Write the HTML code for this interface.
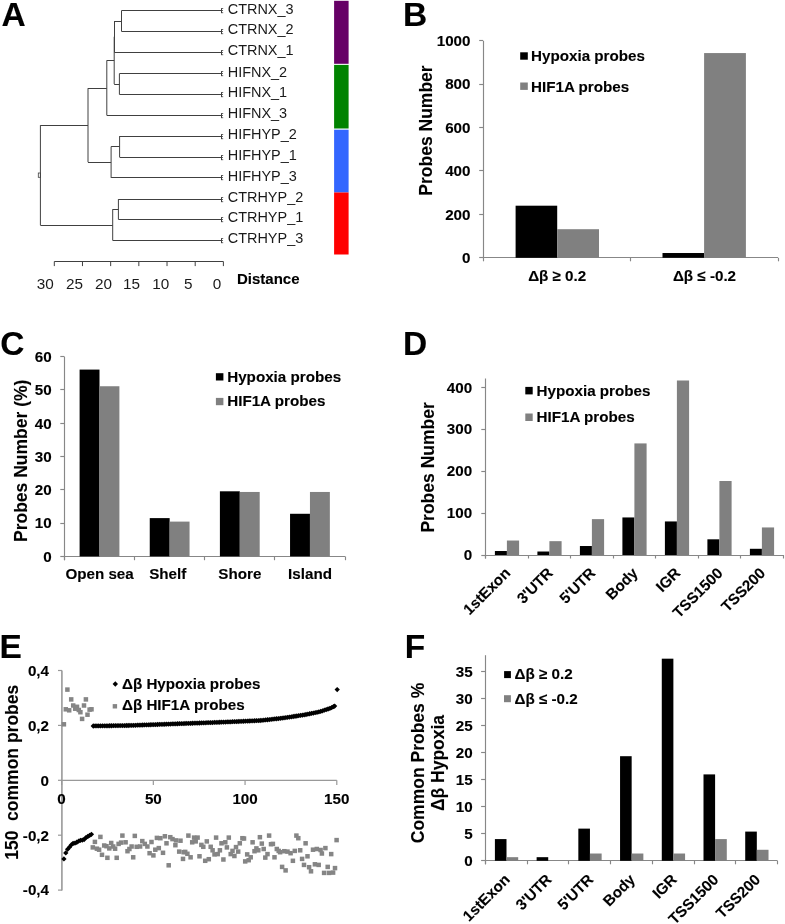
<!DOCTYPE html>
<html><head><meta charset="utf-8"><title>Figure</title>
<style>
html,body{margin:0;padding:0;background:#fff;}
body{width:785px;height:924px;overflow:hidden;}
svg{display:block;font-family:"Liberation Sans",Arial,sans-serif;}
text[font-weight="bold"]{stroke:#000;stroke-width:0.12px;}
</style></head>
<body>
<svg width="785" height="924" viewBox="0 0 785 924">
<rect x="0" y="0" width="785" height="924" fill="#fff"/>
<text x="1.6" y="25.8" font-size="33.5" font-weight="bold" text-anchor="start" fill="#000">A</text>
<text x="403" y="25.9" font-size="33.5" font-weight="bold" text-anchor="start" fill="#000">B</text>
<text x="0.2" y="354.5" font-size="33.5" font-weight="bold" text-anchor="start" fill="#000">C</text>
<text x="403" y="354.8" font-size="33.5" font-weight="bold" text-anchor="start" fill="#000">D</text>
<text x="-0.6" y="658.4" font-size="33.5" font-weight="bold" text-anchor="start" fill="#000">E</text>
<text x="404.7" y="658.3" font-size="33.5" font-weight="bold" text-anchor="start" fill="#000">F</text>
<line x1="121.5" y1="10.5" x2="221.3" y2="10.5" stroke="#404040" stroke-width="1.0"/>
<line x1="221.5" y1="8.2" x2="221.5" y2="13.1" stroke="#404040" stroke-width="1"/>
<line x1="221.5" y1="8.5" x2="223.2" y2="8.5" stroke="#404040" stroke-width="0.8"/>
<line x1="221.5" y1="12.7" x2="223.2" y2="12.7" stroke="#404040" stroke-width="0.8"/>
<line x1="221.5" y1="10.5" x2="223" y2="10.5" stroke="#404040" stroke-width="0.8"/>
<text x="0" y="0" font-size="15" fill="#1a1a1a" transform="translate(227.7,13.5) scale(0.965,1)">CTRNX_3</text>
<line x1="121.5" y1="31.5" x2="221.3" y2="31.5" stroke="#404040" stroke-width="1.0"/>
<line x1="221.5" y1="29.2" x2="221.5" y2="34.1" stroke="#404040" stroke-width="1"/>
<line x1="221.5" y1="29.5" x2="223.2" y2="29.5" stroke="#404040" stroke-width="0.8"/>
<line x1="221.5" y1="33.7" x2="223.2" y2="33.7" stroke="#404040" stroke-width="0.8"/>
<line x1="221.5" y1="31.5" x2="223" y2="31.5" stroke="#404040" stroke-width="0.8"/>
<text x="0" y="0" font-size="15" fill="#1a1a1a" transform="translate(227.7,34.3) scale(0.965,1)">CTRNX_2</text>
<line x1="114.5" y1="52.5" x2="221.3" y2="52.5" stroke="#404040" stroke-width="1.0"/>
<line x1="221.5" y1="50.2" x2="221.5" y2="55.1" stroke="#404040" stroke-width="1"/>
<line x1="221.5" y1="50.5" x2="223.2" y2="50.5" stroke="#404040" stroke-width="0.8"/>
<line x1="221.5" y1="54.7" x2="223.2" y2="54.7" stroke="#404040" stroke-width="0.8"/>
<line x1="221.5" y1="52.5" x2="223" y2="52.5" stroke="#404040" stroke-width="0.8"/>
<text x="0" y="0" font-size="15" fill="#1a1a1a" transform="translate(227.7,55.4) scale(0.965,1)">CTRNX_1</text>
<line x1="119.4" y1="73.5" x2="221.3" y2="73.5" stroke="#404040" stroke-width="1.0"/>
<line x1="221.5" y1="71.2" x2="221.5" y2="76.1" stroke="#404040" stroke-width="1"/>
<line x1="221.5" y1="71.5" x2="223.2" y2="71.5" stroke="#404040" stroke-width="0.8"/>
<line x1="221.5" y1="75.7" x2="223.2" y2="75.7" stroke="#404040" stroke-width="0.8"/>
<line x1="221.5" y1="73.5" x2="223" y2="73.5" stroke="#404040" stroke-width="0.8"/>
<text x="0" y="0" font-size="15" fill="#1a1a1a" transform="translate(227.7,76.6) scale(0.965,1)">HIFNX_2</text>
<line x1="119.4" y1="94.5" x2="221.3" y2="94.5" stroke="#404040" stroke-width="1.0"/>
<line x1="221.5" y1="92.2" x2="221.5" y2="97.1" stroke="#404040" stroke-width="1"/>
<line x1="221.5" y1="92.5" x2="223.2" y2="92.5" stroke="#404040" stroke-width="0.8"/>
<line x1="221.5" y1="96.7" x2="223.2" y2="96.7" stroke="#404040" stroke-width="0.8"/>
<line x1="221.5" y1="94.5" x2="223" y2="94.5" stroke="#404040" stroke-width="0.8"/>
<text x="0" y="0" font-size="15" fill="#1a1a1a" transform="translate(227.7,97.3) scale(0.965,1)">HIFNX_1</text>
<line x1="106.8" y1="115.5" x2="221.3" y2="115.5" stroke="#404040" stroke-width="1.0"/>
<line x1="221.5" y1="113.2" x2="221.5" y2="118.1" stroke="#404040" stroke-width="1"/>
<line x1="221.5" y1="113.5" x2="223.2" y2="113.5" stroke="#404040" stroke-width="0.8"/>
<line x1="221.5" y1="117.7" x2="223.2" y2="117.7" stroke="#404040" stroke-width="0.8"/>
<line x1="221.5" y1="115.5" x2="223" y2="115.5" stroke="#404040" stroke-width="0.8"/>
<text x="0" y="0" font-size="15" fill="#1a1a1a" transform="translate(227.7,118.2) scale(0.965,1)">HIFNX_3</text>
<line x1="119.6" y1="136.5" x2="221.3" y2="136.5" stroke="#404040" stroke-width="1.0"/>
<line x1="221.5" y1="134.2" x2="221.5" y2="139.1" stroke="#404040" stroke-width="1"/>
<line x1="221.5" y1="134.5" x2="223.2" y2="134.5" stroke="#404040" stroke-width="0.8"/>
<line x1="221.5" y1="138.7" x2="223.2" y2="138.7" stroke="#404040" stroke-width="0.8"/>
<line x1="221.5" y1="136.5" x2="223" y2="136.5" stroke="#404040" stroke-width="0.8"/>
<text x="0" y="0" font-size="15" fill="#1a1a1a" transform="translate(227.7,139) scale(0.965,1)">HIFHYP_2</text>
<line x1="119.6" y1="157.5" x2="221.3" y2="157.5" stroke="#404040" stroke-width="1.0"/>
<line x1="221.5" y1="155.2" x2="221.5" y2="160.1" stroke="#404040" stroke-width="1"/>
<line x1="221.5" y1="155.5" x2="223.2" y2="155.5" stroke="#404040" stroke-width="0.8"/>
<line x1="221.5" y1="159.7" x2="223.2" y2="159.7" stroke="#404040" stroke-width="0.8"/>
<line x1="221.5" y1="157.5" x2="223" y2="157.5" stroke="#404040" stroke-width="0.8"/>
<text x="0" y="0" font-size="15" fill="#1a1a1a" transform="translate(227.7,160) scale(0.965,1)">HIFHYP_1</text>
<line x1="111.1" y1="177.5" x2="221.3" y2="177.5" stroke="#404040" stroke-width="1.0"/>
<line x1="221.5" y1="175.2" x2="221.5" y2="180.1" stroke="#404040" stroke-width="1"/>
<line x1="221.5" y1="175.5" x2="223.2" y2="175.5" stroke="#404040" stroke-width="0.8"/>
<line x1="221.5" y1="179.7" x2="223.2" y2="179.7" stroke="#404040" stroke-width="0.8"/>
<line x1="221.5" y1="177.5" x2="223" y2="177.5" stroke="#404040" stroke-width="0.8"/>
<text x="0" y="0" font-size="15" fill="#1a1a1a" transform="translate(227.7,180.7) scale(0.965,1)">HIFHYP_3</text>
<line x1="118.4" y1="199.5" x2="221.3" y2="199.5" stroke="#404040" stroke-width="1.0"/>
<line x1="221.5" y1="197.2" x2="221.5" y2="202.1" stroke="#404040" stroke-width="1"/>
<line x1="221.5" y1="197.5" x2="223.2" y2="197.5" stroke="#404040" stroke-width="0.8"/>
<line x1="221.5" y1="201.7" x2="223.2" y2="201.7" stroke="#404040" stroke-width="0.8"/>
<line x1="221.5" y1="199.5" x2="223" y2="199.5" stroke="#404040" stroke-width="0.8"/>
<text x="0" y="0" font-size="15" fill="#1a1a1a" transform="translate(227.7,202) scale(0.965,1)">CTRHYP_2</text>
<line x1="118.4" y1="219.5" x2="221.3" y2="219.5" stroke="#404040" stroke-width="1.0"/>
<line x1="221.5" y1="217.2" x2="221.5" y2="222.1" stroke="#404040" stroke-width="1"/>
<line x1="221.5" y1="217.5" x2="223.2" y2="217.5" stroke="#404040" stroke-width="0.8"/>
<line x1="221.5" y1="221.7" x2="223.2" y2="221.7" stroke="#404040" stroke-width="0.8"/>
<line x1="221.5" y1="219.5" x2="223" y2="219.5" stroke="#404040" stroke-width="0.8"/>
<text x="0" y="0" font-size="15" fill="#1a1a1a" transform="translate(227.7,222.3) scale(0.965,1)">CTRHYP_1</text>
<line x1="112.7" y1="240.5" x2="221.3" y2="240.5" stroke="#404040" stroke-width="1.0"/>
<line x1="221.5" y1="238.2" x2="221.5" y2="243.1" stroke="#404040" stroke-width="1"/>
<line x1="221.5" y1="238.5" x2="223.2" y2="238.5" stroke="#404040" stroke-width="0.8"/>
<line x1="221.5" y1="242.7" x2="223.2" y2="242.7" stroke="#404040" stroke-width="0.8"/>
<line x1="221.5" y1="240.5" x2="223" y2="240.5" stroke="#404040" stroke-width="0.8"/>
<text x="0" y="0" font-size="15" fill="#1a1a1a" transform="translate(227.7,243.3) scale(0.965,1)">CTRHYP_3</text>
<line x1="121.5" y1="10.6" x2="121.5" y2="31.4" stroke="#404040" stroke-width="1.0"/>
<line x1="114.5" y1="21.5" x2="121.5" y2="21.5" stroke="#404040" stroke-width="1.0"/>
<line x1="114.5" y1="21" x2="114.5" y2="52.5" stroke="#404040" stroke-width="1.0"/>
<line x1="119.4" y1="73.7" x2="119.4" y2="94.4" stroke="#404040" stroke-width="1.0"/>
<line x1="114.2" y1="84.5" x2="119.4" y2="84.5" stroke="#404040" stroke-width="1.0"/>
<line x1="114.2" y1="36.75" x2="114.2" y2="84.05" stroke="#404040" stroke-width="1.0"/>
<line x1="106.8" y1="60.5" x2="114.2" y2="60.5" stroke="#404040" stroke-width="1.0"/>
<line x1="106.8" y1="60.4" x2="106.8" y2="115.3" stroke="#404040" stroke-width="1.0"/>
<line x1="88" y1="88.5" x2="106.8" y2="88.5" stroke="#404040" stroke-width="1.0"/>
<line x1="119.6" y1="136.1" x2="119.6" y2="157.1" stroke="#404040" stroke-width="1.0"/>
<line x1="111.1" y1="146.5" x2="119.6" y2="146.5" stroke="#404040" stroke-width="1.0"/>
<line x1="111.1" y1="146.6" x2="111.1" y2="177.8" stroke="#404040" stroke-width="1.0"/>
<line x1="88" y1="162.5" x2="111.1" y2="162.5" stroke="#404040" stroke-width="1.0"/>
<line x1="88" y1="88.2" x2="88" y2="162.2" stroke="#404040" stroke-width="1.0"/>
<line x1="40.4" y1="125.5" x2="88" y2="125.5" stroke="#404040" stroke-width="1.0"/>
<line x1="118.4" y1="199.1" x2="118.4" y2="219.4" stroke="#404040" stroke-width="1.0"/>
<line x1="112.7" y1="209.5" x2="118.4" y2="209.5" stroke="#404040" stroke-width="1.0"/>
<line x1="112.7" y1="209.25" x2="112.7" y2="240.4" stroke="#404040" stroke-width="1.0"/>
<line x1="40.4" y1="225.5" x2="112.7" y2="225.5" stroke="#404040" stroke-width="1.0"/>
<line x1="40.4" y1="125.2" x2="40.4" y2="225.2" stroke="#404040" stroke-width="1.0"/>
<rect x="38.3" y="173" width="2.1" height="4.3" fill="none" stroke="#404040" stroke-width="0.8"/>
<rect x="334.1" y="0.8" width="14.5" height="63" fill="#660066"/>
<rect x="334.1" y="64.9" width="14.5" height="63.6" fill="#008300"/>
<rect x="334.1" y="129.7" width="14.5" height="62.8" fill="#3366ff"/>
<rect x="334.1" y="192.5" width="14.5" height="62" fill="#ff0000"/>
<line x1="54.3" y1="261.5" x2="223.4" y2="261.5" stroke="#404040" stroke-width="1.0"/>
<line x1="54.3" y1="261.5" x2="54.3" y2="266.1" stroke="#404040" stroke-width="1.0"/>
<text x="45.2" y="289.2" font-size="15.3" text-anchor="middle" fill="#1a1a1a">30</text>
<line x1="82.48" y1="261.5" x2="82.48" y2="266.1" stroke="#404040" stroke-width="1.0"/>
<text x="74.4" y="289.2" font-size="15.3" text-anchor="middle" fill="#1a1a1a">25</text>
<line x1="110.66" y1="261.5" x2="110.66" y2="266.1" stroke="#404040" stroke-width="1.0"/>
<text x="103.4" y="289.2" font-size="15.3" text-anchor="middle" fill="#1a1a1a">20</text>
<line x1="138.84" y1="261.5" x2="138.84" y2="266.1" stroke="#404040" stroke-width="1.0"/>
<text x="131.6" y="289.2" font-size="15.3" text-anchor="middle" fill="#1a1a1a">15</text>
<line x1="167.02" y1="261.5" x2="167.02" y2="266.1" stroke="#404040" stroke-width="1.0"/>
<text x="160.7" y="289.2" font-size="15.3" text-anchor="middle" fill="#1a1a1a">10</text>
<line x1="195.2" y1="261.5" x2="195.2" y2="266.1" stroke="#404040" stroke-width="1.0"/>
<text x="188.3" y="289.2" font-size="15.3" text-anchor="middle" fill="#1a1a1a">5</text>
<line x1="223.38" y1="261.5" x2="223.38" y2="266.1" stroke="#404040" stroke-width="1.0"/>
<text x="217.1" y="289.2" font-size="15.3" text-anchor="middle" fill="#1a1a1a">0</text>
<text x="237" y="283.9" font-size="15" font-weight="bold" text-anchor="start" fill="#000">Distance</text>
<line x1="483.5" y1="40.7" x2="483.5" y2="261.3" stroke="#878787" stroke-width="1.15"/>
<line x1="479.2" y1="257.5" x2="483" y2="257.5" stroke="#878787" stroke-width="1.15"/>
<text x="470.5" y="263.1" font-size="15.2" font-weight="bold" text-anchor="end" fill="#000">0</text>
<line x1="479.2" y1="214.5" x2="483" y2="214.5" stroke="#878787" stroke-width="1.15"/>
<text x="470.5" y="219.68" font-size="15.2" font-weight="bold" text-anchor="end" fill="#000">200</text>
<line x1="479.2" y1="170.5" x2="483" y2="170.5" stroke="#878787" stroke-width="1.15"/>
<text x="470.5" y="176.26" font-size="15.2" font-weight="bold" text-anchor="end" fill="#000">400</text>
<line x1="479.2" y1="127.5" x2="483" y2="127.5" stroke="#878787" stroke-width="1.15"/>
<text x="470.5" y="132.84" font-size="15.2" font-weight="bold" text-anchor="end" fill="#000">600</text>
<line x1="479.2" y1="84.5" x2="483" y2="84.5" stroke="#878787" stroke-width="1.15"/>
<text x="470.5" y="89.42" font-size="15.2" font-weight="bold" text-anchor="end" fill="#000">800</text>
<line x1="479.2" y1="40.5" x2="483" y2="40.5" stroke="#878787" stroke-width="1.15"/>
<text x="470.5" y="46" font-size="15.2" font-weight="bold" text-anchor="end" fill="#000">1000</text>
<line x1="483" y1="257.5" x2="778" y2="257.5" stroke="#878787" stroke-width="1.15"/>
<line x1="630.5" y1="257.8" x2="630.5" y2="261.3" stroke="#878787" stroke-width="1.15"/>
<line x1="778.5" y1="257.8" x2="778.5" y2="261.3" stroke="#878787" stroke-width="1.15"/>
<rect x="515.6" y="205.7" width="41.6" height="52.1" fill="#000000"/>
<rect x="557.2" y="229.21" width="41.8" height="28.59" fill="#808080"/>
<rect x="662.5" y="253.02" width="41.6" height="4.78" fill="#000000"/>
<rect x="704.1" y="53.07" width="41.8" height="204.73" fill="#808080"/>
<text x="557.2" y="280.7" font-size="15.2" font-weight="bold" text-anchor="middle" fill="#000">&#916;&#946; &#8805; 0.2</text>
<text x="704.5" y="280.7" font-size="15.2" font-weight="bold" text-anchor="middle" fill="#000">&#916;&#946; &#8804; -0.2</text>
<rect x="520.2" y="52.3" width="7.6" height="7.4" fill="#000000"/>
<rect x="520.2" y="82.5" width="7.6" height="7.4" fill="#808080"/>
<text x="531" y="60.9" font-size="15.2" font-weight="bold" text-anchor="start" fill="#000">Hypoxia probes</text>
<text x="531" y="91.5" font-size="15.2" font-weight="bold" text-anchor="start" fill="#000">HIF1A probes</text>
<text x="0" y="0" font-size="17.5" font-weight="bold" text-anchor="middle" transform="translate(431.5,130.5) rotate(-90)">Probes Number</text>
<line x1="64.5" y1="356.6" x2="64.5" y2="560.2" stroke="#878787" stroke-width="1.15"/>
<line x1="60.3" y1="556.5" x2="64.3" y2="556.5" stroke="#878787" stroke-width="1.15"/>
<text x="51.6" y="561.7" font-size="15.2" font-weight="bold" text-anchor="end" fill="#000">0</text>
<line x1="60.3" y1="523.5" x2="64.3" y2="523.5" stroke="#878787" stroke-width="1.15"/>
<text x="51.6" y="528.4" font-size="15.2" font-weight="bold" text-anchor="end" fill="#000">10</text>
<line x1="60.3" y1="489.5" x2="64.3" y2="489.5" stroke="#878787" stroke-width="1.15"/>
<text x="51.6" y="495.1" font-size="15.2" font-weight="bold" text-anchor="end" fill="#000">20</text>
<line x1="60.3" y1="456.5" x2="64.3" y2="456.5" stroke="#878787" stroke-width="1.15"/>
<text x="51.6" y="461.8" font-size="15.2" font-weight="bold" text-anchor="end" fill="#000">30</text>
<line x1="60.3" y1="423.5" x2="64.3" y2="423.5" stroke="#878787" stroke-width="1.15"/>
<text x="51.6" y="428.5" font-size="15.2" font-weight="bold" text-anchor="end" fill="#000">40</text>
<line x1="60.3" y1="389.5" x2="64.3" y2="389.5" stroke="#878787" stroke-width="1.15"/>
<text x="51.6" y="395.2" font-size="15.2" font-weight="bold" text-anchor="end" fill="#000">50</text>
<line x1="60.3" y1="356.5" x2="64.3" y2="356.5" stroke="#878787" stroke-width="1.15"/>
<text x="51.6" y="361.9" font-size="15.2" font-weight="bold" text-anchor="end" fill="#000">60</text>
<line x1="64.3" y1="556.5" x2="345" y2="556.5" stroke="#878787" stroke-width="1.15"/>
<line x1="64.5" y1="556.4" x2="64.5" y2="560.2" stroke="#878787" stroke-width="1.15"/>
<line x1="134.5" y1="556.4" x2="134.5" y2="560.2" stroke="#878787" stroke-width="1.15"/>
<line x1="204.5" y1="556.4" x2="204.5" y2="560.2" stroke="#878787" stroke-width="1.15"/>
<line x1="274.5" y1="556.4" x2="274.5" y2="560.2" stroke="#878787" stroke-width="1.15"/>
<line x1="345.5" y1="556.4" x2="345.5" y2="560.2" stroke="#878787" stroke-width="1.15"/>
<rect x="79.6" y="369.59" width="19.9" height="186.81" fill="#000000"/>
<rect x="99.5" y="386.24" width="19.9" height="170.16" fill="#808080"/>
<text x="99.58" y="579.3" font-size="15.2" font-weight="bold" text-anchor="middle" fill="#000">Open sea</text>
<rect x="149.75" y="518.11" width="19.9" height="38.29" fill="#000000"/>
<rect x="169.65" y="521.6" width="19.9" height="34.8" fill="#808080"/>
<text x="167.73" y="579.3" font-size="15.2" font-weight="bold" text-anchor="middle" fill="#000">Shelf</text>
<rect x="219.9" y="491.3" width="19.9" height="65.1" fill="#000000"/>
<rect x="239.8" y="491.96" width="19.9" height="64.44" fill="#808080"/>
<text x="239.88" y="579.3" font-size="15.2" font-weight="bold" text-anchor="middle" fill="#000">Shore</text>
<rect x="290.05" y="513.78" width="19.9" height="42.62" fill="#000000"/>
<rect x="309.95" y="491.96" width="19.9" height="64.44" fill="#808080"/>
<text x="310.03" y="579.3" font-size="15.2" font-weight="bold" text-anchor="middle" fill="#000">Island</text>
<rect x="215.9" y="373.2" width="7.5" height="7.3" fill="#000000"/>
<rect x="215.9" y="397.9" width="7.5" height="7.3" fill="#808080"/>
<text x="227.2" y="381.6" font-size="15.2" font-weight="bold" text-anchor="start" fill="#000">Hypoxia probes</text>
<text x="227.2" y="406.1" font-size="15.2" font-weight="bold" text-anchor="start" fill="#000">HIF1A probes</text>
<text x="0" y="0" font-size="17.5" font-weight="bold" text-anchor="middle" transform="translate(27.3,460.8) rotate(-90)">Probes Number (%)</text>
<line x1="485.5" y1="378.5" x2="485.5" y2="558.5" stroke="#878787" stroke-width="1.15"/>
<line x1="481.3" y1="555.5" x2="485.5" y2="555.5" stroke="#878787" stroke-width="1.15"/>
<text x="472.2" y="560.3" font-size="15.2" font-weight="bold" text-anchor="end" fill="#000">0</text>
<line x1="481.3" y1="513.5" x2="485.5" y2="513.5" stroke="#878787" stroke-width="1.15"/>
<text x="472.2" y="518.35" font-size="15.2" font-weight="bold" text-anchor="end" fill="#000">100</text>
<line x1="481.3" y1="471.5" x2="485.5" y2="471.5" stroke="#878787" stroke-width="1.15"/>
<text x="472.2" y="476.4" font-size="15.2" font-weight="bold" text-anchor="end" fill="#000">200</text>
<line x1="481.3" y1="429.5" x2="485.5" y2="429.5" stroke="#878787" stroke-width="1.15"/>
<text x="472.2" y="434.45" font-size="15.2" font-weight="bold" text-anchor="end" fill="#000">300</text>
<line x1="481.3" y1="387.5" x2="485.5" y2="387.5" stroke="#878787" stroke-width="1.15"/>
<text x="472.2" y="392.5" font-size="15.2" font-weight="bold" text-anchor="end" fill="#000">400</text>
<line x1="485.5" y1="555.5" x2="783" y2="555.5" stroke="#878787" stroke-width="1.15"/>
<line x1="485.5" y1="555" x2="485.5" y2="558.5" stroke="#878787" stroke-width="1.15"/>
<line x1="528.5" y1="555" x2="528.5" y2="558.5" stroke="#878787" stroke-width="1.15"/>
<line x1="570.5" y1="555" x2="570.5" y2="558.5" stroke="#878787" stroke-width="1.15"/>
<line x1="613.5" y1="555" x2="613.5" y2="558.5" stroke="#878787" stroke-width="1.15"/>
<line x1="655.5" y1="555" x2="655.5" y2="558.5" stroke="#878787" stroke-width="1.15"/>
<line x1="698.5" y1="555" x2="698.5" y2="558.5" stroke="#878787" stroke-width="1.15"/>
<line x1="740.5" y1="555" x2="740.5" y2="558.5" stroke="#878787" stroke-width="1.15"/>
<line x1="783.5" y1="555" x2="783.5" y2="558.5" stroke="#878787" stroke-width="1.15"/>
<rect x="494.9" y="551.01" width="12" height="3.99" fill="#000000"/>
<rect x="506.9" y="540.53" width="12.2" height="14.47" fill="#808080"/>
<text x="0" y="0" font-size="15.2" font-weight="bold" text-anchor="end" transform="translate(511.25,574) rotate(-45)">1stExon</text>
<rect x="537.4" y="551.52" width="12" height="3.48" fill="#000000"/>
<rect x="549.4" y="541.16" width="12.2" height="13.84" fill="#808080"/>
<text x="0" y="0" font-size="15.2" font-weight="bold" text-anchor="end" transform="translate(553.75,574) rotate(-45)">3'UTR</text>
<rect x="579.9" y="546.02" width="12" height="8.98" fill="#000000"/>
<rect x="591.9" y="519.13" width="12.2" height="35.87" fill="#808080"/>
<text x="0" y="0" font-size="15.2" font-weight="bold" text-anchor="end" transform="translate(596.25,574) rotate(-45)">5'UTR</text>
<rect x="622.4" y="517.45" width="12" height="37.55" fill="#000000"/>
<rect x="634.4" y="443.41" width="12.2" height="111.59" fill="#808080"/>
<text x="0" y="0" font-size="15.2" font-weight="bold" text-anchor="end" transform="translate(638.75,574) rotate(-45)">Body</text>
<rect x="664.9" y="521.44" width="12" height="33.56" fill="#000000"/>
<rect x="676.9" y="380.49" width="12.2" height="174.51" fill="#808080"/>
<text x="0" y="0" font-size="15.2" font-weight="bold" text-anchor="end" transform="translate(681.25,574) rotate(-45)">IGR</text>
<rect x="707.4" y="539.31" width="12" height="15.69" fill="#000000"/>
<rect x="719.4" y="481" width="12.2" height="74" fill="#808080"/>
<text x="0" y="0" font-size="15.2" font-weight="bold" text-anchor="end" transform="translate(723.75,574) rotate(-45)">TSS1500</text>
<rect x="749.9" y="548.79" width="12" height="6.21" fill="#000000"/>
<rect x="761.9" y="527.44" width="12.2" height="27.56" fill="#808080"/>
<text x="0" y="0" font-size="15.2" font-weight="bold" text-anchor="end" transform="translate(766.25,574) rotate(-45)">TSS200</text>
<rect x="525.3" y="386.9" width="7.4" height="7.5" fill="#000000"/>
<rect x="525.3" y="413.5" width="7.4" height="7.5" fill="#808080"/>
<text x="536.5" y="395.6" font-size="15.2" font-weight="bold" text-anchor="start" fill="#000">Hypoxia probes</text>
<text x="536.5" y="422.4" font-size="15.2" font-weight="bold" text-anchor="start" fill="#000">HIF1A probes</text>
<text x="0" y="0" font-size="17.5" font-weight="bold" text-anchor="middle" transform="translate(433.5,467.4) rotate(-90)">Probes Number</text>
<line x1="61.9" y1="670.5" x2="61.9" y2="890.6" stroke="#999" stroke-width="1.6"/>
<line x1="58" y1="670.5" x2="62" y2="670.5" stroke="#999" stroke-width="1.2"/>
<text x="49" y="675.8" font-size="15.2" font-weight="bold" text-anchor="end" fill="#000">0,4</text>
<line x1="58" y1="725.4" x2="62" y2="725.4" stroke="#999" stroke-width="1.2"/>
<text x="49" y="730.7" font-size="15.2" font-weight="bold" text-anchor="end" fill="#000">0,2</text>
<line x1="58" y1="780.3" x2="62" y2="780.3" stroke="#999" stroke-width="1.2"/>
<text x="49" y="785.6" font-size="15.2" font-weight="bold" text-anchor="end" fill="#000">0</text>
<line x1="58" y1="835.2" x2="62" y2="835.2" stroke="#999" stroke-width="1.2"/>
<text x="49" y="840.5" font-size="15.2" font-weight="bold" text-anchor="end" fill="#000">-0,2</text>
<line x1="58" y1="890.1" x2="62" y2="890.1" stroke="#999" stroke-width="1.2"/>
<text x="49" y="895.4" font-size="15.2" font-weight="bold" text-anchor="end" fill="#000">-0,4</text>
<line x1="61" y1="780.3" x2="336.8" y2="780.3" stroke="#999" stroke-width="1.3"/>
<line x1="61.6" y1="780.3" x2="61.6" y2="785" stroke="#999" stroke-width="1.2"/>
<text x="61.6" y="803.5" font-size="15.2" font-weight="bold" text-anchor="middle" fill="#000">0</text>
<line x1="153.33" y1="780.3" x2="153.33" y2="785" stroke="#999" stroke-width="1.2"/>
<text x="153.33" y="803.5" font-size="15.2" font-weight="bold" text-anchor="middle" fill="#000">50</text>
<line x1="245.06" y1="780.3" x2="245.06" y2="785" stroke="#999" stroke-width="1.2"/>
<text x="245.06" y="803.5" font-size="15.2" font-weight="bold" text-anchor="middle" fill="#000">100</text>
<line x1="336.79" y1="780.3" x2="336.79" y2="785" stroke="#999" stroke-width="1.2"/>
<text x="336.79" y="803.5" font-size="15.2" font-weight="bold" text-anchor="middle" fill="#000">150</text>
<rect x="61.65" y="722.05" width="4.5" height="4.5" fill="#858585"/>
<rect x="63.55" y="707.05" width="4.5" height="4.5" fill="#858585"/>
<rect x="65.15" y="687.35" width="4.5" height="4.5" fill="#858585"/>
<rect x="66.95" y="708.05" width="4.5" height="4.5" fill="#858585"/>
<rect x="68.95" y="697.15" width="4.5" height="4.5" fill="#858585"/>
<rect x="70.95" y="703.25" width="4.5" height="4.5" fill="#858585"/>
<rect x="72.95" y="706.45" width="4.5" height="4.5" fill="#858585"/>
<rect x="74.75" y="704.55" width="4.5" height="4.5" fill="#858585"/>
<rect x="76.55" y="707.75" width="4.5" height="4.5" fill="#858585"/>
<rect x="78.15" y="709.95" width="4.5" height="4.5" fill="#858585"/>
<rect x="79.85" y="716.65" width="4.5" height="4.5" fill="#858585"/>
<rect x="81.75" y="703.25" width="4.5" height="4.5" fill="#858585"/>
<rect x="83.65" y="697.15" width="4.5" height="4.5" fill="#858585"/>
<rect x="85.25" y="712.45" width="4.5" height="4.5" fill="#858585"/>
<rect x="87.35" y="707.35" width="4.5" height="4.5" fill="#858585"/>
<rect x="89.25" y="707.05" width="4.5" height="4.5" fill="#858585"/>
<rect x="90.55" y="845.15" width="4.5" height="4.5" fill="#858585"/>
<rect x="92.65" y="839.65" width="4.5" height="4.5" fill="#858585"/>
<rect x="94.65" y="846.45" width="4.5" height="4.5" fill="#858585"/>
<rect x="96.85" y="847.45" width="4.5" height="4.5" fill="#858585"/>
<rect x="98.15" y="834.65" width="4.5" height="4.5" fill="#858585"/>
<rect x="99.75" y="852.55" width="4.5" height="4.5" fill="#858585"/>
<rect x="101.95" y="843.25" width="4.5" height="4.5" fill="#858585"/>
<rect x="104.25" y="843.95" width="4.5" height="4.5" fill="#858585"/>
<rect x="105.15" y="855.55" width="4.5" height="4.5" fill="#858585"/>
<rect x="107.05" y="846.15" width="4.5" height="4.5" fill="#858585"/>
<rect x="108.95" y="840.75" width="4.5" height="4.5" fill="#858585"/>
<rect x="110.95" y="844.25" width="4.5" height="4.5" fill="#858585"/>
<rect x="112.85" y="846.45" width="4.5" height="4.5" fill="#858585"/>
<rect x="114.45" y="855.55" width="4.5" height="4.5" fill="#858585"/>
<rect x="116.35" y="841.65" width="4.5" height="4.5" fill="#858585"/>
<rect x="118.85" y="840.35" width="4.5" height="4.5" fill="#858585"/>
<rect x="120.15" y="833.35" width="4.5" height="4.5" fill="#858585"/>
<rect x="123.35" y="840.05" width="4.5" height="4.5" fill="#858585"/>
<rect x="125.25" y="848.95" width="4.5" height="4.5" fill="#858585"/>
<rect x="127.15" y="846.75" width="4.5" height="4.5" fill="#858585"/>
<rect x="129.35" y="844.25" width="4.5" height="4.5" fill="#858585"/>
<rect x="130.95" y="855.05" width="4.5" height="4.5" fill="#858585"/>
<rect x="132.55" y="833.65" width="4.5" height="4.5" fill="#858585"/>
<rect x="134.45" y="844.55" width="4.5" height="4.5" fill="#858585"/>
<rect x="137.85" y="844.25" width="4.5" height="4.5" fill="#858585"/>
<rect x="140.05" y="838.85" width="4.5" height="4.5" fill="#858585"/>
<rect x="142.55" y="841.65" width="4.5" height="4.5" fill="#858585"/>
<rect x="145.15" y="844.25" width="4.5" height="4.5" fill="#858585"/>
<rect x="147.35" y="850.95" width="4.5" height="4.5" fill="#858585"/>
<rect x="149.25" y="839.75" width="4.5" height="4.5" fill="#858585"/>
<rect x="151.15" y="853.15" width="4.5" height="4.5" fill="#858585"/>
<rect x="153.05" y="847.45" width="4.5" height="4.5" fill="#858585"/>
<rect x="154.65" y="835.65" width="4.5" height="4.5" fill="#858585"/>
<rect x="156.55" y="845.85" width="4.5" height="4.5" fill="#858585"/>
<rect x="158.15" y="835.95" width="4.5" height="4.5" fill="#858585"/>
<rect x="160.75" y="850.55" width="4.5" height="4.5" fill="#858585"/>
<rect x="162.65" y="834.05" width="4.5" height="4.5" fill="#858585"/>
<rect x="164.25" y="841.05" width="4.5" height="4.5" fill="#858585"/>
<rect x="166.45" y="863.05" width="4.5" height="4.5" fill="#858585"/>
<rect x="168.05" y="834.95" width="4.5" height="4.5" fill="#858585"/>
<rect x="170.25" y="836.85" width="4.5" height="4.5" fill="#858585"/>
<rect x="173.15" y="842.95" width="4.5" height="4.5" fill="#858585"/>
<rect x="173.75" y="838.15" width="4.5" height="4.5" fill="#858585"/>
<rect x="176.95" y="849.35" width="4.5" height="4.5" fill="#858585"/>
<rect x="178.25" y="838.45" width="4.5" height="4.5" fill="#858585"/>
<rect x="180.75" y="856.65" width="4.5" height="4.5" fill="#858585"/>
<rect x="181.45" y="849.95" width="4.5" height="4.5" fill="#858585"/>
<rect x="182.95" y="849.65" width="4.5" height="4.5" fill="#858585"/>
<rect x="185.15" y="851.55" width="4.5" height="4.5" fill="#858585"/>
<rect x="186.15" y="833.35" width="4.5" height="4.5" fill="#858585"/>
<rect x="188.35" y="855.05" width="4.5" height="4.5" fill="#858585"/>
<rect x="189.95" y="840.05" width="4.5" height="4.5" fill="#858585"/>
<rect x="191.85" y="835.35" width="4.5" height="4.5" fill="#858585"/>
<rect x="193.45" y="839.15" width="4.5" height="4.5" fill="#858585"/>
<rect x="195.35" y="835.35" width="4.5" height="4.5" fill="#858585"/>
<rect x="197.25" y="854.05" width="4.5" height="4.5" fill="#858585"/>
<rect x="199.15" y="842.65" width="4.5" height="4.5" fill="#858585"/>
<rect x="201.05" y="844.55" width="4.5" height="4.5" fill="#858585"/>
<rect x="202.95" y="858.55" width="4.5" height="4.5" fill="#858585"/>
<rect x="204.55" y="839.15" width="4.5" height="4.5" fill="#858585"/>
<rect x="206.55" y="856.95" width="4.5" height="4.5" fill="#858585"/>
<rect x="208.45" y="844.55" width="4.5" height="4.5" fill="#858585"/>
<rect x="210.35" y="848.05" width="4.5" height="4.5" fill="#858585"/>
<rect x="212.25" y="852.15" width="4.5" height="4.5" fill="#858585"/>
<rect x="213.85" y="835.35" width="4.5" height="4.5" fill="#858585"/>
<rect x="215.45" y="851.85" width="4.5" height="4.5" fill="#858585"/>
<rect x="217.65" y="848.05" width="4.5" height="4.5" fill="#858585"/>
<rect x="219.25" y="841.05" width="4.5" height="4.5" fill="#858585"/>
<rect x="221.15" y="857.25" width="4.5" height="4.5" fill="#858585"/>
<rect x="223.05" y="840.05" width="4.5" height="4.5" fill="#858585"/>
<rect x="224.65" y="845.15" width="4.5" height="4.5" fill="#858585"/>
<rect x="226.55" y="835.35" width="4.5" height="4.5" fill="#858585"/>
<rect x="228.45" y="851.85" width="4.5" height="4.5" fill="#858585"/>
<rect x="230.25" y="848.65" width="4.5" height="4.5" fill="#858585"/>
<rect x="232.15" y="853.75" width="4.5" height="4.5" fill="#858585"/>
<rect x="233.75" y="844.85" width="4.5" height="4.5" fill="#858585"/>
<rect x="235.95" y="849.35" width="4.5" height="4.5" fill="#858585"/>
<rect x="237.55" y="841.05" width="4.5" height="4.5" fill="#858585"/>
<rect x="240.15" y="835.95" width="4.5" height="4.5" fill="#858585"/>
<rect x="241.75" y="836.25" width="4.5" height="4.5" fill="#858585"/>
<rect x="242.95" y="859.15" width="4.5" height="4.5" fill="#858585"/>
<rect x="244.95" y="852.15" width="4.5" height="4.5" fill="#858585"/>
<rect x="246.45" y="857.95" width="4.5" height="4.5" fill="#858585"/>
<rect x="248.45" y="855.05" width="4.5" height="4.5" fill="#858585"/>
<rect x="250.35" y="840.05" width="4.5" height="4.5" fill="#858585"/>
<rect x="252.25" y="848.95" width="4.5" height="4.5" fill="#858585"/>
<rect x="254.15" y="846.15" width="4.5" height="4.5" fill="#858585"/>
<rect x="256.05" y="848.05" width="4.5" height="4.5" fill="#858585"/>
<rect x="257.65" y="834.95" width="4.5" height="4.5" fill="#858585"/>
<rect x="259.55" y="841.35" width="4.5" height="4.5" fill="#858585"/>
<rect x="261.45" y="846.75" width="4.5" height="4.5" fill="#858585"/>
<rect x="263.05" y="855.35" width="4.5" height="4.5" fill="#858585"/>
<rect x="265.25" y="851.85" width="4.5" height="4.5" fill="#858585"/>
<rect x="266.85" y="833.35" width="4.5" height="4.5" fill="#858585"/>
<rect x="268.75" y="841.95" width="4.5" height="4.5" fill="#858585"/>
<rect x="270.65" y="841.65" width="4.5" height="4.5" fill="#858585"/>
<rect x="272.25" y="855.05" width="4.5" height="4.5" fill="#858585"/>
<rect x="274.55" y="846.75" width="4.5" height="4.5" fill="#858585"/>
<rect x="276.45" y="848.65" width="4.5" height="4.5" fill="#858585"/>
<rect x="277.85" y="849.95" width="4.5" height="4.5" fill="#858585"/>
<rect x="279.85" y="864.65" width="4.5" height="4.5" fill="#858585"/>
<rect x="282.05" y="848.95" width="4.5" height="4.5" fill="#858585"/>
<rect x="283.35" y="868.15" width="4.5" height="4.5" fill="#858585"/>
<rect x="285.25" y="849.35" width="4.5" height="4.5" fill="#858585"/>
<rect x="288.35" y="850.95" width="4.5" height="4.5" fill="#858585"/>
<rect x="290.65" y="858.55" width="4.5" height="4.5" fill="#858585"/>
<rect x="292.55" y="848.65" width="4.5" height="4.5" fill="#858585"/>
<rect x="294.15" y="833.35" width="4.5" height="4.5" fill="#858585"/>
<rect x="296.05" y="835.95" width="4.5" height="4.5" fill="#858585"/>
<rect x="297.95" y="848.05" width="4.5" height="4.5" fill="#858585"/>
<rect x="299.85" y="856.65" width="4.5" height="4.5" fill="#858585"/>
<rect x="301.75" y="862.65" width="4.5" height="4.5" fill="#858585"/>
<rect x="303.35" y="841.05" width="4.5" height="4.5" fill="#858585"/>
<rect x="305.25" y="854.05" width="4.5" height="4.5" fill="#858585"/>
<rect x="306.85" y="864.95" width="4.5" height="4.5" fill="#858585"/>
<rect x="308.75" y="869.05" width="4.5" height="4.5" fill="#858585"/>
<rect x="310.75" y="847.45" width="4.5" height="4.5" fill="#858585"/>
<rect x="312.65" y="862.05" width="4.5" height="4.5" fill="#858585"/>
<rect x="314.55" y="846.75" width="4.5" height="4.5" fill="#858585"/>
<rect x="316.45" y="862.65" width="4.5" height="4.5" fill="#858585"/>
<rect x="318.35" y="847.75" width="4.5" height="4.5" fill="#858585"/>
<rect x="319.65" y="851.25" width="4.5" height="4.5" fill="#858585"/>
<rect x="321.85" y="870.65" width="4.5" height="4.5" fill="#858585"/>
<rect x="323.15" y="845.85" width="4.5" height="4.5" fill="#858585"/>
<rect x="325.45" y="864.65" width="4.5" height="4.5" fill="#858585"/>
<rect x="326.75" y="870.65" width="4.5" height="4.5" fill="#858585"/>
<rect x="328.95" y="851.85" width="4.5" height="4.5" fill="#858585"/>
<rect x="330.85" y="870.35" width="4.5" height="4.5" fill="#858585"/>
<rect x="332.75" y="865.85" width="4.5" height="4.5" fill="#858585"/>
<rect x="334.35" y="837.85" width="4.5" height="4.5" fill="#858585"/>
<path d="M63.93,856.26L66.58,858.91L63.93,861.56L61.28,858.91Z" fill="#000"/>
<path d="M65.77,850.25L68.42,852.9L65.77,855.55L63.12,852.9Z" fill="#000"/>
<path d="M67.6,846.69L70.25,849.34L67.6,851.99L64.95,849.34Z" fill="#000"/>
<path d="M69.44,844.5L72.09,847.15L69.44,849.8L66.79,847.15Z" fill="#000"/>
<path d="M71.27,842.32L73.92,844.97L71.27,847.62L68.62,844.97Z" fill="#000"/>
<path d="M73.1,840.68L75.75,843.33L73.1,845.98L70.45,843.33Z" fill="#000"/>
<path d="M74.94,840.4L77.59,843.05L74.94,845.7L72.29,843.05Z" fill="#000"/>
<path d="M76.77,839.58L79.42,842.23L76.77,844.88L74.12,842.23Z" fill="#000"/>
<path d="M78.61,838.49L81.26,841.14L78.61,843.79L75.96,841.14Z" fill="#000"/>
<path d="M80.44,837.67L83.09,840.32L80.44,842.97L77.79,840.32Z" fill="#000"/>
<path d="M82.27,837.39L84.92,840.04L82.27,842.69L79.62,840.04Z" fill="#000"/>
<path d="M84.11,836.85L86.76,839.5L84.11,842.15L81.46,839.5Z" fill="#000"/>
<path d="M85.94,834.93L88.59,837.58L85.94,840.23L83.29,837.58Z" fill="#000"/>
<path d="M87.78,833.84L90.43,836.49L87.78,839.14L85.13,836.49Z" fill="#000"/>
<path d="M89.61,832.74L92.26,835.39L89.61,838.04L86.96,835.39Z" fill="#000"/>
<path d="M91.44,831.65L94.09,834.3L91.44,836.95L88.79,834.3Z" fill="#000"/>
<path d="M93.28,723.34L95.93,725.99L93.28,728.64L90.63,725.99Z" fill="#000"/>
<path d="M95.11,723.32L97.76,725.97L95.11,728.62L92.46,725.97Z" fill="#000"/>
<path d="M96.95,723.29L99.6,725.94L96.95,728.59L94.3,725.94Z" fill="#000"/>
<path d="M98.78,723.26L101.43,725.91L98.78,728.56L96.13,725.91Z" fill="#000"/>
<path d="M100.61,723.24L103.26,725.89L100.61,728.54L97.96,725.89Z" fill="#000"/>
<path d="M102.45,723.21L105.1,725.86L102.45,728.51L99.8,725.86Z" fill="#000"/>
<path d="M104.28,723.18L106.93,725.83L104.28,728.48L101.63,725.83Z" fill="#000"/>
<path d="M106.12,723.16L108.77,725.81L106.12,728.46L103.47,725.81Z" fill="#000"/>
<path d="M107.95,723.13L110.6,725.78L107.95,728.43L105.3,725.78Z" fill="#000"/>
<path d="M109.78,723.1L112.43,725.75L109.78,728.4L107.13,725.75Z" fill="#000"/>
<path d="M111.62,723.08L114.27,725.73L111.62,728.38L108.97,725.73Z" fill="#000"/>
<path d="M113.45,723.05L116.1,725.7L113.45,728.35L110.8,725.7Z" fill="#000"/>
<path d="M115.29,723.02L117.94,725.67L115.29,728.32L112.64,725.67Z" fill="#000"/>
<path d="M117.12,723L119.77,725.65L117.12,728.3L114.47,725.65Z" fill="#000"/>
<path d="M118.95,722.97L121.6,725.62L118.95,728.27L116.3,725.62Z" fill="#000"/>
<path d="M120.79,722.94L123.44,725.59L120.79,728.24L118.14,725.59Z" fill="#000"/>
<path d="M122.62,722.92L125.27,725.57L122.62,728.22L119.97,725.57Z" fill="#000"/>
<path d="M124.46,722.89L127.11,725.54L124.46,728.19L121.81,725.54Z" fill="#000"/>
<path d="M126.29,722.86L128.94,725.51L126.29,728.16L123.64,725.51Z" fill="#000"/>
<path d="M128.12,722.84L130.77,725.49L128.12,728.14L125.47,725.49Z" fill="#000"/>
<path d="M129.96,722.81L132.61,725.46L129.96,728.11L127.31,725.46Z" fill="#000"/>
<path d="M131.79,722.76L134.44,725.41L131.79,728.06L129.14,725.41Z" fill="#000"/>
<path d="M133.63,722.7L136.28,725.35L133.63,728L130.98,725.35Z" fill="#000"/>
<path d="M135.46,722.63L138.11,725.28L135.46,727.93L132.81,725.28Z" fill="#000"/>
<path d="M137.29,722.57L139.94,725.22L137.29,727.87L134.64,725.22Z" fill="#000"/>
<path d="M139.13,722.5L141.78,725.15L139.13,727.8L136.48,725.15Z" fill="#000"/>
<path d="M140.96,722.44L143.61,725.09L140.96,727.74L138.31,725.09Z" fill="#000"/>
<path d="M142.8,722.37L145.45,725.02L142.8,727.67L140.15,725.02Z" fill="#000"/>
<path d="M144.63,722.3L147.28,724.95L144.63,727.6L141.98,724.95Z" fill="#000"/>
<path d="M146.46,722.24L149.11,724.89L146.46,727.54L143.81,724.89Z" fill="#000"/>
<path d="M148.3,722.17L150.95,724.82L148.3,727.47L145.65,724.82Z" fill="#000"/>
<path d="M150.13,722.11L152.78,724.76L150.13,727.41L147.48,724.76Z" fill="#000"/>
<path d="M151.97,722.04L154.62,724.69L151.97,727.34L149.32,724.69Z" fill="#000"/>
<path d="M153.8,721.98L156.45,724.63L153.8,727.28L151.15,724.63Z" fill="#000"/>
<path d="M155.63,721.91L158.28,724.56L155.63,727.21L152.98,724.56Z" fill="#000"/>
<path d="M157.47,721.85L160.12,724.5L157.47,727.15L154.82,724.5Z" fill="#000"/>
<path d="M159.3,721.78L161.95,724.43L159.3,727.08L156.65,724.43Z" fill="#000"/>
<path d="M161.14,721.71L163.79,724.36L161.14,727.01L158.49,724.36Z" fill="#000"/>
<path d="M162.97,721.65L165.62,724.3L162.97,726.95L160.32,724.3Z" fill="#000"/>
<path d="M164.8,721.58L167.45,724.23L164.8,726.88L162.15,724.23Z" fill="#000"/>
<path d="M166.64,721.52L169.29,724.17L166.64,726.82L163.99,724.17Z" fill="#000"/>
<path d="M168.47,721.45L171.12,724.1L168.47,726.75L165.82,724.1Z" fill="#000"/>
<path d="M170.31,721.39L172.96,724.04L170.31,726.69L167.66,724.04Z" fill="#000"/>
<path d="M172.14,721.32L174.79,723.97L172.14,726.62L169.49,723.97Z" fill="#000"/>
<path d="M173.97,721.25L176.62,723.9L173.97,726.55L171.32,723.9Z" fill="#000"/>
<path d="M175.81,721.19L178.46,723.84L175.81,726.49L173.16,723.84Z" fill="#000"/>
<path d="M177.64,721.12L180.29,723.77L177.64,726.42L174.99,723.77Z" fill="#000"/>
<path d="M179.48,721.06L182.13,723.71L179.48,726.36L176.83,723.71Z" fill="#000"/>
<path d="M181.31,720.99L183.96,723.64L181.31,726.29L178.66,723.64Z" fill="#000"/>
<path d="M183.14,720.93L185.79,723.58L183.14,726.23L180.49,723.58Z" fill="#000"/>
<path d="M184.98,720.86L187.63,723.51L184.98,726.16L182.33,723.51Z" fill="#000"/>
<path d="M186.81,720.79L189.46,723.44L186.81,726.09L184.16,723.44Z" fill="#000"/>
<path d="M188.65,720.73L191.3,723.38L188.65,726.03L186,723.38Z" fill="#000"/>
<path d="M190.48,720.66L193.13,723.31L190.48,725.96L187.83,723.31Z" fill="#000"/>
<path d="M192.31,720.6L194.96,723.25L192.31,725.9L189.66,723.25Z" fill="#000"/>
<path d="M194.15,720.53L196.8,723.18L194.15,725.83L191.5,723.18Z" fill="#000"/>
<path d="M195.98,720.47L198.63,723.12L195.98,725.77L193.33,723.12Z" fill="#000"/>
<path d="M197.82,720.4L200.47,723.05L197.82,725.7L195.17,723.05Z" fill="#000"/>
<path d="M199.65,720.34L202.3,722.99L199.65,725.64L197,722.99Z" fill="#000"/>
<path d="M201.48,720.27L204.13,722.92L201.48,725.57L198.83,722.92Z" fill="#000"/>
<path d="M203.32,720.2L205.97,722.85L203.32,725.5L200.67,722.85Z" fill="#000"/>
<path d="M205.15,720.14L207.8,722.79L205.15,725.44L202.5,722.79Z" fill="#000"/>
<path d="M206.99,720.07L209.64,722.72L206.99,725.37L204.34,722.72Z" fill="#000"/>
<path d="M208.82,720.01L211.47,722.66L208.82,725.31L206.17,722.66Z" fill="#000"/>
<path d="M210.65,719.94L213.3,722.59L210.65,725.24L208,722.59Z" fill="#000"/>
<path d="M212.49,719.88L215.14,722.53L212.49,725.18L209.84,722.53Z" fill="#000"/>
<path d="M214.32,719.81L216.97,722.46L214.32,725.11L211.67,722.46Z" fill="#000"/>
<path d="M216.16,719.74L218.81,722.39L216.16,725.04L213.51,722.39Z" fill="#000"/>
<path d="M217.99,719.68L220.64,722.33L217.99,724.98L215.34,722.33Z" fill="#000"/>
<path d="M219.82,719.61L222.47,722.26L219.82,724.91L217.17,722.26Z" fill="#000"/>
<path d="M221.66,719.55L224.31,722.2L221.66,724.85L219.01,722.2Z" fill="#000"/>
<path d="M223.49,719.47L226.14,722.12L223.49,724.77L220.84,722.12Z" fill="#000"/>
<path d="M225.33,719.39L227.98,722.04L225.33,724.69L222.68,722.04Z" fill="#000"/>
<path d="M227.16,719.31L229.81,721.96L227.16,724.61L224.51,721.96Z" fill="#000"/>
<path d="M228.99,719.23L231.64,721.88L228.99,724.53L226.34,721.88Z" fill="#000"/>
<path d="M230.83,719.15L233.48,721.8L230.83,724.45L228.18,721.8Z" fill="#000"/>
<path d="M232.66,719.07L235.31,721.72L232.66,724.37L230.01,721.72Z" fill="#000"/>
<path d="M234.5,718.99L237.15,721.64L234.5,724.29L231.85,721.64Z" fill="#000"/>
<path d="M236.33,718.91L238.98,721.56L236.33,724.21L233.68,721.56Z" fill="#000"/>
<path d="M238.16,718.83L240.81,721.48L238.16,724.13L235.51,721.48Z" fill="#000"/>
<path d="M240,718.75L242.65,721.4L240,724.05L237.35,721.4Z" fill="#000"/>
<path d="M241.83,718.67L244.48,721.32L241.83,723.97L239.18,721.32Z" fill="#000"/>
<path d="M243.67,718.59L246.32,721.24L243.67,723.89L241.02,721.24Z" fill="#000"/>
<path d="M245.5,718.51L248.15,721.16L245.5,723.81L242.85,721.16Z" fill="#000"/>
<path d="M247.33,718.43L249.98,721.08L247.33,723.73L244.68,721.08Z" fill="#000"/>
<path d="M249.17,718.35L251.82,721L249.17,723.65L246.52,721Z" fill="#000"/>
<path d="M251,718.27L253.65,720.92L251,723.57L248.35,720.92Z" fill="#000"/>
<path d="M252.84,718.19L255.49,720.84L252.84,723.49L250.19,720.84Z" fill="#000"/>
<path d="M254.67,718.11L257.32,720.76L254.67,723.41L252.02,720.76Z" fill="#000"/>
<path d="M256.5,718.03L259.15,720.68L256.5,723.33L253.85,720.68Z" fill="#000"/>
<path d="M258.34,717.95L260.99,720.6L258.34,723.25L255.69,720.6Z" fill="#000"/>
<path d="M260.17,717.87L262.82,720.52L260.17,723.17L257.52,720.52Z" fill="#000"/>
<path d="M262.01,717.68L264.66,720.33L262.01,722.98L259.36,720.33Z" fill="#000"/>
<path d="M263.84,717.48L266.49,720.13L263.84,722.78L261.19,720.13Z" fill="#000"/>
<path d="M265.67,717.28L268.32,719.93L265.67,722.58L263.02,719.93Z" fill="#000"/>
<path d="M267.51,717.08L270.16,719.73L267.51,722.38L264.86,719.73Z" fill="#000"/>
<path d="M269.34,716.88L271.99,719.53L269.34,722.18L266.69,719.53Z" fill="#000"/>
<path d="M271.18,716.68L273.83,719.33L271.18,721.98L268.53,719.33Z" fill="#000"/>
<path d="M273.01,716.48L275.66,719.13L273.01,721.78L270.36,719.13Z" fill="#000"/>
<path d="M274.84,716.28L277.49,718.93L274.84,721.58L272.19,718.93Z" fill="#000"/>
<path d="M276.68,716.09L279.33,718.74L276.68,721.39L274.03,718.74Z" fill="#000"/>
<path d="M278.51,715.89L281.16,718.54L278.51,721.19L275.86,718.54Z" fill="#000"/>
<path d="M280.35,715.69L283,718.34L280.35,720.99L277.7,718.34Z" fill="#000"/>
<path d="M282.18,715.47L284.83,718.12L282.18,720.77L279.53,718.12Z" fill="#000"/>
<path d="M284.01,715.2L286.66,717.85L284.01,720.5L281.36,717.85Z" fill="#000"/>
<path d="M285.85,714.94L288.5,717.59L285.85,720.24L283.2,717.59Z" fill="#000"/>
<path d="M287.68,714.67L290.33,717.32L287.68,719.97L285.03,717.32Z" fill="#000"/>
<path d="M289.52,714.4L292.17,717.05L289.52,719.7L286.87,717.05Z" fill="#000"/>
<path d="M291.35,714.14L294,716.79L291.35,719.44L288.7,716.79Z" fill="#000"/>
<path d="M293.18,713.87L295.83,716.52L293.18,719.17L290.53,716.52Z" fill="#000"/>
<path d="M295.02,713.6L297.67,716.25L295.02,718.9L292.37,716.25Z" fill="#000"/>
<path d="M296.85,713.34L299.5,715.99L296.85,718.64L294.2,715.99Z" fill="#000"/>
<path d="M298.69,713.07L301.34,715.72L298.69,718.37L296.04,715.72Z" fill="#000"/>
<path d="M300.52,712.8L303.17,715.45L300.52,718.1L297.87,715.45Z" fill="#000"/>
<path d="M302.35,712.54L305,715.19L302.35,717.84L299.7,715.19Z" fill="#000"/>
<path d="M304.19,712.22L306.84,714.87L304.19,717.52L301.54,714.87Z" fill="#000"/>
<path d="M306.02,711.85L308.67,714.5L306.02,717.15L303.37,714.5Z" fill="#000"/>
<path d="M307.86,711.48L310.51,714.13L307.86,716.78L305.21,714.13Z" fill="#000"/>
<path d="M309.69,711.11L312.34,713.76L309.69,716.41L307.04,713.76Z" fill="#000"/>
<path d="M311.52,710.74L314.17,713.39L311.52,716.04L308.87,713.39Z" fill="#000"/>
<path d="M313.36,710.38L316.01,713.03L313.36,715.68L310.71,713.03Z" fill="#000"/>
<path d="M315.19,710.01L317.84,712.66L315.19,715.31L312.54,712.66Z" fill="#000"/>
<path d="M317.03,709.64L319.68,712.29L317.03,714.94L314.38,712.29Z" fill="#000"/>
<path d="M318.86,709.27L321.51,711.92L318.86,714.57L316.21,711.92Z" fill="#000"/>
<path d="M320.69,708.76L323.34,711.41L320.69,714.06L318.04,711.41Z" fill="#000"/>
<path d="M322.53,708.16L325.18,710.81L322.53,713.46L319.88,710.81Z" fill="#000"/>
<path d="M324.36,707.56L327.01,710.21L324.36,712.86L321.71,710.21Z" fill="#000"/>
<path d="M326.2,706.95L328.85,709.6L326.2,712.25L323.55,709.6Z" fill="#000"/>
<path d="M328.03,706.35L330.68,709L328.03,711.65L325.38,709Z" fill="#000"/>
<path d="M329.86,705.75L332.51,708.4L329.86,711.05L327.21,708.4Z" fill="#000"/>
<path d="M331.7,704.9L334.35,707.55L331.7,710.2L329.05,707.55Z" fill="#000"/>
<path d="M333.53,703.95L336.18,706.6L333.53,709.25L330.88,706.6Z" fill="#000"/>
<path d="M334.63,703.38L337.28,706.03L334.63,708.68L331.98,706.03Z" fill="#000"/>
<path d="M337.2,686.97L339.85,689.62L337.2,692.27L334.55,689.62Z" fill="#000"/>
<path d="M115.3,681.3L118,684L115.3,686.7L112.6,684Z" fill="#000"/>
<rect x="112.7" y="704.1" width="4.4" height="4.4" fill="#858585"/>
<text x="122" y="688.9" font-size="15.2" font-weight="bold" text-anchor="start" fill="#000">&#916;&#946; Hypoxia probes</text>
<text x="122" y="710.3" font-size="15.2" font-weight="bold" text-anchor="start" fill="#000">&#916;&#946; HIF1A probes</text>
<text x="0" y="0" font-size="17.5" font-weight="bold" text-anchor="middle" transform="translate(18.4,772.3) rotate(-90)">150&#160;&#160;common probes</text>
<line x1="485.5" y1="655.2" x2="485.5" y2="864.3" stroke="#878787" stroke-width="1.15"/>
<line x1="481.1" y1="860.5" x2="485.5" y2="860.5" stroke="#878787" stroke-width="1.15"/>
<text x="472.6" y="866.1" font-size="15.2" font-weight="bold" text-anchor="end" fill="#000">0</text>
<line x1="481.1" y1="833.5" x2="485.5" y2="833.5" stroke="#878787" stroke-width="1.15"/>
<text x="472.6" y="839.1" font-size="15.2" font-weight="bold" text-anchor="end" fill="#000">5</text>
<line x1="481.1" y1="806.5" x2="485.5" y2="806.5" stroke="#878787" stroke-width="1.15"/>
<text x="472.6" y="812.1" font-size="15.2" font-weight="bold" text-anchor="end" fill="#000">10</text>
<line x1="481.1" y1="779.5" x2="485.5" y2="779.5" stroke="#878787" stroke-width="1.15"/>
<text x="472.6" y="785.1" font-size="15.2" font-weight="bold" text-anchor="end" fill="#000">15</text>
<line x1="481.1" y1="752.5" x2="485.5" y2="752.5" stroke="#878787" stroke-width="1.15"/>
<text x="472.6" y="758.1" font-size="15.2" font-weight="bold" text-anchor="end" fill="#000">20</text>
<line x1="481.1" y1="725.5" x2="485.5" y2="725.5" stroke="#878787" stroke-width="1.15"/>
<text x="472.6" y="731.1" font-size="15.2" font-weight="bold" text-anchor="end" fill="#000">25</text>
<line x1="481.1" y1="698.5" x2="485.5" y2="698.5" stroke="#878787" stroke-width="1.15"/>
<text x="472.6" y="704.1" font-size="15.2" font-weight="bold" text-anchor="end" fill="#000">30</text>
<line x1="481.1" y1="671.5" x2="485.5" y2="671.5" stroke="#878787" stroke-width="1.15"/>
<text x="472.6" y="677.1" font-size="15.2" font-weight="bold" text-anchor="end" fill="#000">35</text>
<line x1="485.5" y1="860.5" x2="777.5" y2="860.5" stroke="#878787" stroke-width="1.15"/>
<line x1="485.5" y1="860.8" x2="485.5" y2="864.3" stroke="#878787" stroke-width="1.15"/>
<line x1="527.5" y1="860.8" x2="527.5" y2="864.3" stroke="#878787" stroke-width="1.15"/>
<line x1="568.5" y1="860.8" x2="568.5" y2="864.3" stroke="#878787" stroke-width="1.15"/>
<line x1="610.5" y1="860.8" x2="610.5" y2="864.3" stroke="#878787" stroke-width="1.15"/>
<line x1="652.5" y1="860.8" x2="652.5" y2="864.3" stroke="#878787" stroke-width="1.15"/>
<line x1="694.5" y1="860.8" x2="694.5" y2="864.3" stroke="#878787" stroke-width="1.15"/>
<line x1="735.5" y1="860.8" x2="735.5" y2="864.3" stroke="#878787" stroke-width="1.15"/>
<line x1="777.5" y1="860.8" x2="777.5" y2="864.3" stroke="#878787" stroke-width="1.15"/>
<rect x="494.9" y="839.09" width="11.6" height="21.71" fill="#000000"/>
<rect x="506.5" y="857.18" width="11.7" height="3.62" fill="#808080"/>
<text x="0" y="0" font-size="15.2" font-weight="bold" text-anchor="end" transform="translate(510.86,880.5) rotate(-45)">1stExon</text>
<rect x="536.62" y="857.18" width="11.6" height="3.62" fill="#000000"/>
<text x="0" y="0" font-size="15.2" font-weight="bold" text-anchor="end" transform="translate(552.58,880.5) rotate(-45)">3'UTR</text>
<rect x="578.34" y="828.62" width="11.6" height="32.18" fill="#000000"/>
<rect x="589.94" y="853.51" width="11.7" height="7.29" fill="#808080"/>
<text x="0" y="0" font-size="15.2" font-weight="bold" text-anchor="end" transform="translate(594.3,880.5) rotate(-45)">5'UTR</text>
<rect x="620.06" y="756.2" width="11.6" height="104.6" fill="#000000"/>
<rect x="631.66" y="853.51" width="11.7" height="7.29" fill="#808080"/>
<text x="0" y="0" font-size="15.2" font-weight="bold" text-anchor="end" transform="translate(636.02,880.5) rotate(-45)">Body</text>
<rect x="661.78" y="658.68" width="11.6" height="202.12" fill="#000000"/>
<rect x="673.38" y="853.51" width="11.7" height="7.29" fill="#808080"/>
<text x="0" y="0" font-size="15.2" font-weight="bold" text-anchor="end" transform="translate(677.74,880.5) rotate(-45)">IGR</text>
<rect x="703.5" y="774.4" width="11.6" height="86.4" fill="#000000"/>
<rect x="715.1" y="839.09" width="11.7" height="21.71" fill="#808080"/>
<text x="0" y="0" font-size="15.2" font-weight="bold" text-anchor="end" transform="translate(719.46,880.5) rotate(-45)">TSS1500</text>
<rect x="745.22" y="831.59" width="11.6" height="29.21" fill="#000000"/>
<rect x="756.82" y="849.78" width="11.7" height="11.02" fill="#808080"/>
<text x="0" y="0" font-size="15.2" font-weight="bold" text-anchor="end" transform="translate(761.18,880.5) rotate(-45)">TSS200</text>
<rect x="504.1" y="671.1" width="6.8" height="7" fill="#000000"/>
<rect x="504" y="695.2" width="6.9" height="7" fill="#808080"/>
<text x="514.5" y="679.4" font-size="15.2" font-weight="bold" text-anchor="start" fill="#000">&#916;&#946; &#8805; 0.2</text>
<text x="514.5" y="703.5" font-size="15.2" font-weight="bold" text-anchor="start" fill="#000">&#916;&#946; &#8804; -0.2</text>
<text x="0" y="0" font-size="17.5" font-weight="bold" text-anchor="middle" transform="translate(423.8,763) rotate(-90)">Common Probes %</text>
<text x="0" y="0" font-size="17.5" font-weight="bold" text-anchor="middle" transform="translate(444,763) rotate(-90)">&#916;&#946; Hypoxia</text>
</svg>
</body></html>
